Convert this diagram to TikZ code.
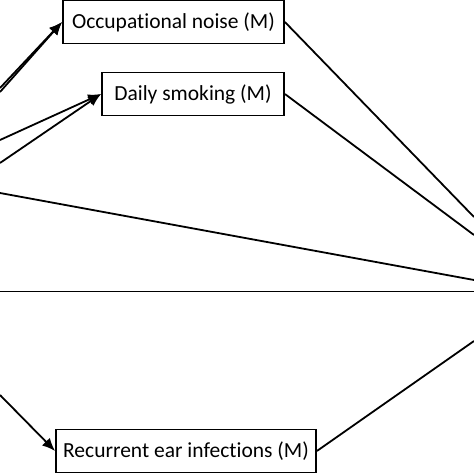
\documentclass[tikz,border=0pt]{standalone}
\usepackage{fontspec}
\setmainfont[Ligatures={NoCommon}]{Carlito}
\usetikzlibrary{positioning,arrows.meta}

\begin{document}
\begin{tikzpicture}[x=1pt,y=1pt,line width=1.8pt,>={Latex[length=13pt,width=11pt]},
    mediator/.style={rectangle, draw, fill=white, align=center, inner sep=0pt, minimum height=43pt, font=\fontsize{21.5}{25}\selectfont}]
        \useasboundingbox (0,0) rectangle (474,474);
        \clip (0,0) rectangle (474,474);
        % Nodes
        \node [mediator,minimum width=221pt] (noise) at (173.5,452) {Occupational noise (M)};
        \node [mediator,minimum width=182pt] (smoking) at (193,380) {Daily smoking (M)};
        \node [mediator,minimum width=260pt] (ear) at (186,23) {Recurrent ear infections (M)};
        
        % Free ends
        \coordinate (inA) at (0,386);
        \coordinate (inB) at (0,382);
        \coordinate (inC) at (0,334);
        \coordinate (inD) at (0,311);
        \coordinate (inE) at (0,281);
        \coordinate (inF) at (0,182.5);
        \coordinate (inG) at (0,79);
        \coordinate (outA) at (474,257);
        \coordinate (outB) at (474,239);
        \coordinate (outC) at (474,194);
        \coordinate (outD) at (474,182.5);
        \coordinate (outE) at (474,133);
        
        % Arrows
        \draw[->] (inA) -- (noise.west);
        \draw[->] (inB) -- (noise.west);
        \draw[->] (inC) -- (smoking.west);
        \draw[->] (inD) -- (smoking.west);
        \draw[->] (inG) -- (ear.west);
        \draw (noise.east) -- (outA);
        \draw (smoking.east) -- (outB);
        \draw (ear.east) -- (outE);
        \draw (inE) -- (outC);
        \draw (inF) -- (outD);
        
        \end{tikzpicture}
\end{document}
